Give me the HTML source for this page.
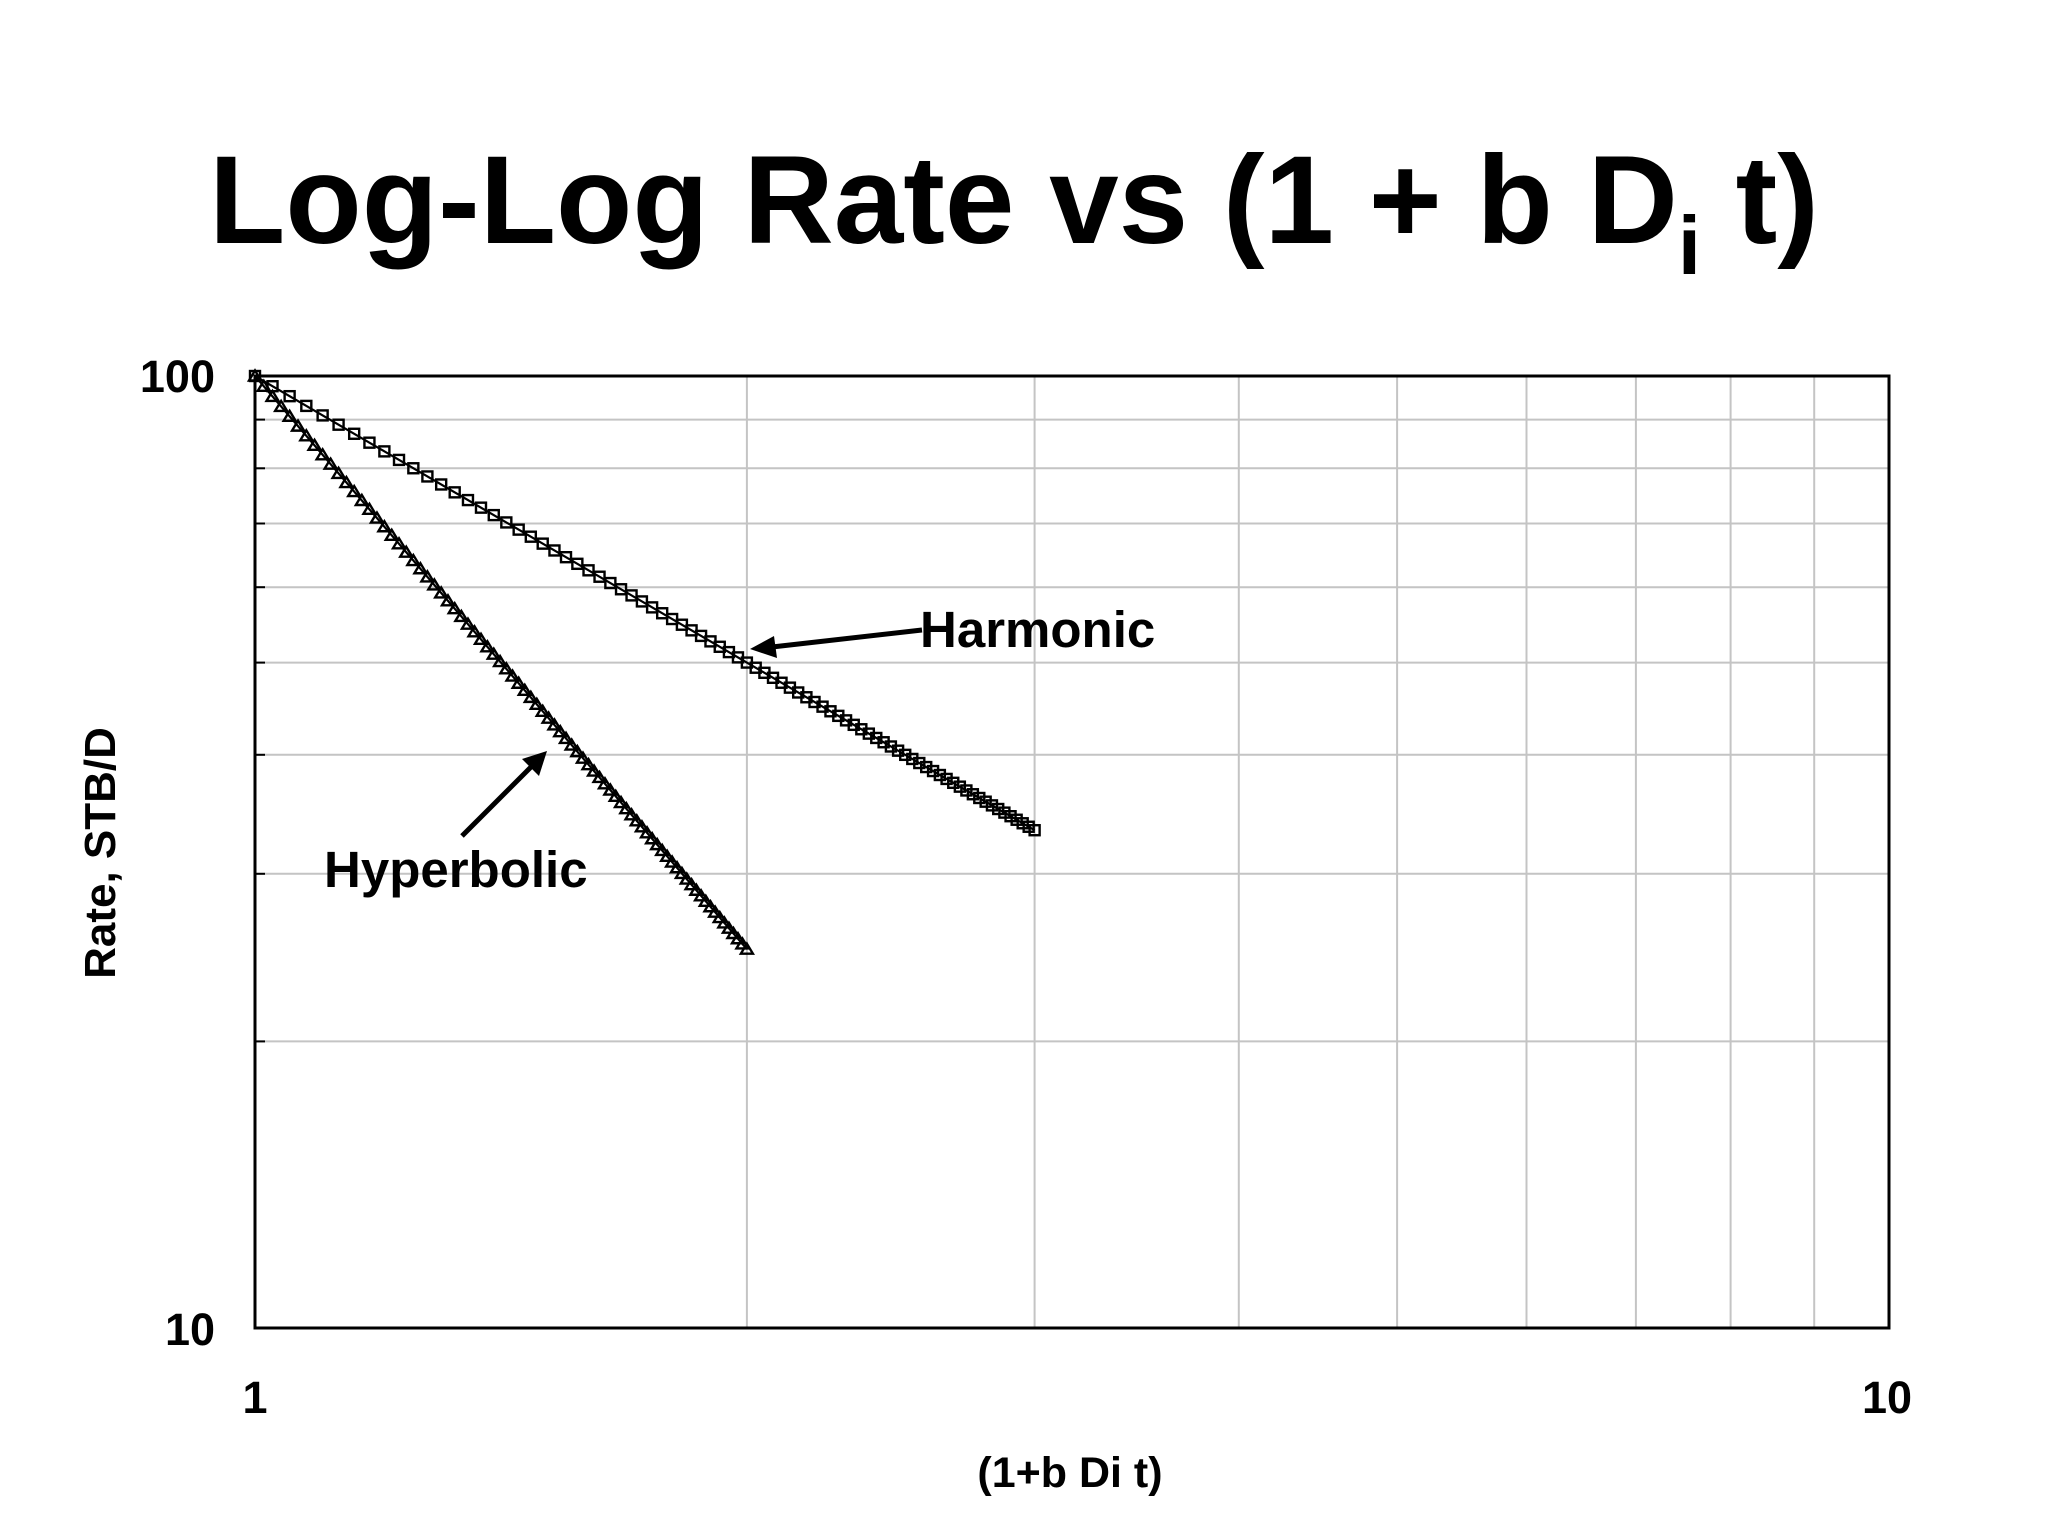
<!DOCTYPE html>
<html>
<head>
<meta charset="utf-8">
<style>
  html, body { margin:0; padding:0; background:#ffffff; }
  body { width:2048px; height:1536px; overflow:hidden; }
  svg { display:block; }
  text { font-family: "Liberation Sans", Arial, sans-serif; font-weight:bold; fill:#000; white-space:pre; }
</style>
</head>
<body>
<svg id="chart" width="2048" height="1536" viewBox="0 0 2048 1536" xmlns="http://www.w3.org/2000/svg">
  <rect x="0" y="0" width="2048" height="1536" fill="#ffffff"/>

  <!-- Title -->
  <text x="209" y="243" font-size="125">Log-Log Rate vs (1 + b D<tspan font-size="83" dy="31">i</tspan><tspan dy="-31"> t)</tspan></text>

  <!-- Grid lines -->
  <g stroke="#c4c4c4" stroke-width="2" fill="none">
    <line x1="746.9" y1="376" x2="746.9" y2="1328"/>
    <line x1="1034.6" y1="376" x2="1034.6" y2="1328"/>
    <line x1="1238.8" y1="376" x2="1238.8" y2="1328"/>
    <line x1="1397.1" y1="376" x2="1397.1" y2="1328"/>
    <line x1="1526.5" y1="376" x2="1526.5" y2="1328"/>
    <line x1="1635.9" y1="376" x2="1635.9" y2="1328"/>
    <line x1="1730.6" y1="376" x2="1730.6" y2="1328"/>
    <line x1="1814.2" y1="376" x2="1814.2" y2="1328"/>

    <line x1="255" y1="419.6" x2="1889" y2="419.6"/>
    <line x1="255" y1="468.3" x2="1889" y2="468.3"/>
    <line x1="255" y1="523.5" x2="1889" y2="523.5"/>
    <line x1="255" y1="587.2" x2="1889" y2="587.2"/>
    <line x1="255" y1="662.6" x2="1889" y2="662.6"/>
    <line x1="255" y1="754.8" x2="1889" y2="754.8"/>
    <line x1="255" y1="873.8" x2="1889" y2="873.8"/>
    <line x1="255" y1="1041.4" x2="1889" y2="1041.4"/>
  </g>

  <!-- Left axis inner ticks -->
  <g stroke="#000" stroke-width="2">
    <line x1="255" y1="419.6" x2="265" y2="419.6"/>
    <line x1="255" y1="468.3" x2="265" y2="468.3"/>
    <line x1="255" y1="523.5" x2="265" y2="523.5"/>
    <line x1="255" y1="587.2" x2="265" y2="587.2"/>
    <line x1="255" y1="662.6" x2="265" y2="662.6"/>
    <line x1="255" y1="754.8" x2="265" y2="754.8"/>
    <line x1="255" y1="873.8" x2="265" y2="873.8"/>
    <line x1="255" y1="1041.4" x2="265" y2="1041.4"/>
  </g>

  <!-- Plot frame -->
  <rect x="255" y="376" width="1634" height="952" fill="none" stroke="#000" stroke-width="3"/>

  <!-- Series lines (straight in log-log) -->
  <line x1="255" y1="376" x2="1034.6" y2="830.2" stroke="#000" stroke-width="2.2"/>
  <line x1="255" y1="376" x2="746.9" y2="949.2" stroke="#000" stroke-width="2.2"/>

  <!-- Markers (generated) -->
  <g id="markers" fill="none" stroke="#000" stroke-width="2.4"></g>

  <!-- Axis tick labels -->
  <text x="215" y="392" font-size="45" text-anchor="end">100</text>
  <text x="215" y="1345" font-size="45" text-anchor="end">10</text>
  <text x="255" y="1413" font-size="45" text-anchor="middle">1</text>
  <text x="1887" y="1413" font-size="45" text-anchor="middle">10</text>

  <!-- Axis titles -->
  <text x="1070" y="1487" font-size="43" text-anchor="middle">(1+b Di t)</text>
  <text x="0" y="0" font-size="44" text-anchor="middle" transform="translate(115,853) rotate(-90)">Rate, STB/D</text>

  <!-- Annotations -->
  <g stroke="#000" stroke-width="5" fill="#000">
    <line x1="922" y1="630" x2="772" y2="647"/>
    <polygon points="750,649 774,636 777,658" stroke="none"/>
    <line x1="462" y1="836" x2="532" y2="766"/>
    <polygon points="547,751 539,776 522,759" stroke="none"/>
  </g>
  <text x="920" y="647" font-size="51">Harmonic</text>
  <text x="324" y="887" font-size="51">Hyperbolic</text>
</svg>
<script>
(function(){
  var g = document.getElementById('markers');
  var ns = 'http://www.w3.org/2000/svg';
  function L(v){ return Math.log(v)/Math.LN10; }
  for (var i = 0; i <= 80; i++) {
    var t = i * 0.025;
    // Harmonic: q = 100/x, x = 1 + t
    var xh = 1 + t;
    var px = 255 + 1634 * L(xh);
    var py = 376 + 952 * L(xh);
    var r = document.createElementNS(ns, 'rect');
    r.setAttribute('x', (px - 5).toFixed(2));
    r.setAttribute('y', (py - 5).toFixed(2));
    r.setAttribute('width', '10');
    r.setAttribute('height', '10');
    g.appendChild(r);
    // Hyperbolic: q = 100/x^2, x = 1 + 0.5 t
    var xy = 1 + 0.5 * t;
    var qx = 255 + 1634 * L(xy);
    var qy = 376 + 1904 * L(xy);
    var p = document.createElementNS(ns, 'polygon');
    p.setAttribute('points',
      qx.toFixed(2) + ',' + (qy - 5.5).toFixed(2) + ' ' +
      (qx - 6).toFixed(2) + ',' + (qy + 4.5).toFixed(2) + ' ' +
      (qx + 6).toFixed(2) + ',' + (qy + 4.5).toFixed(2));
    g.appendChild(p);
  }
})();
</script>
</body>
</html>
